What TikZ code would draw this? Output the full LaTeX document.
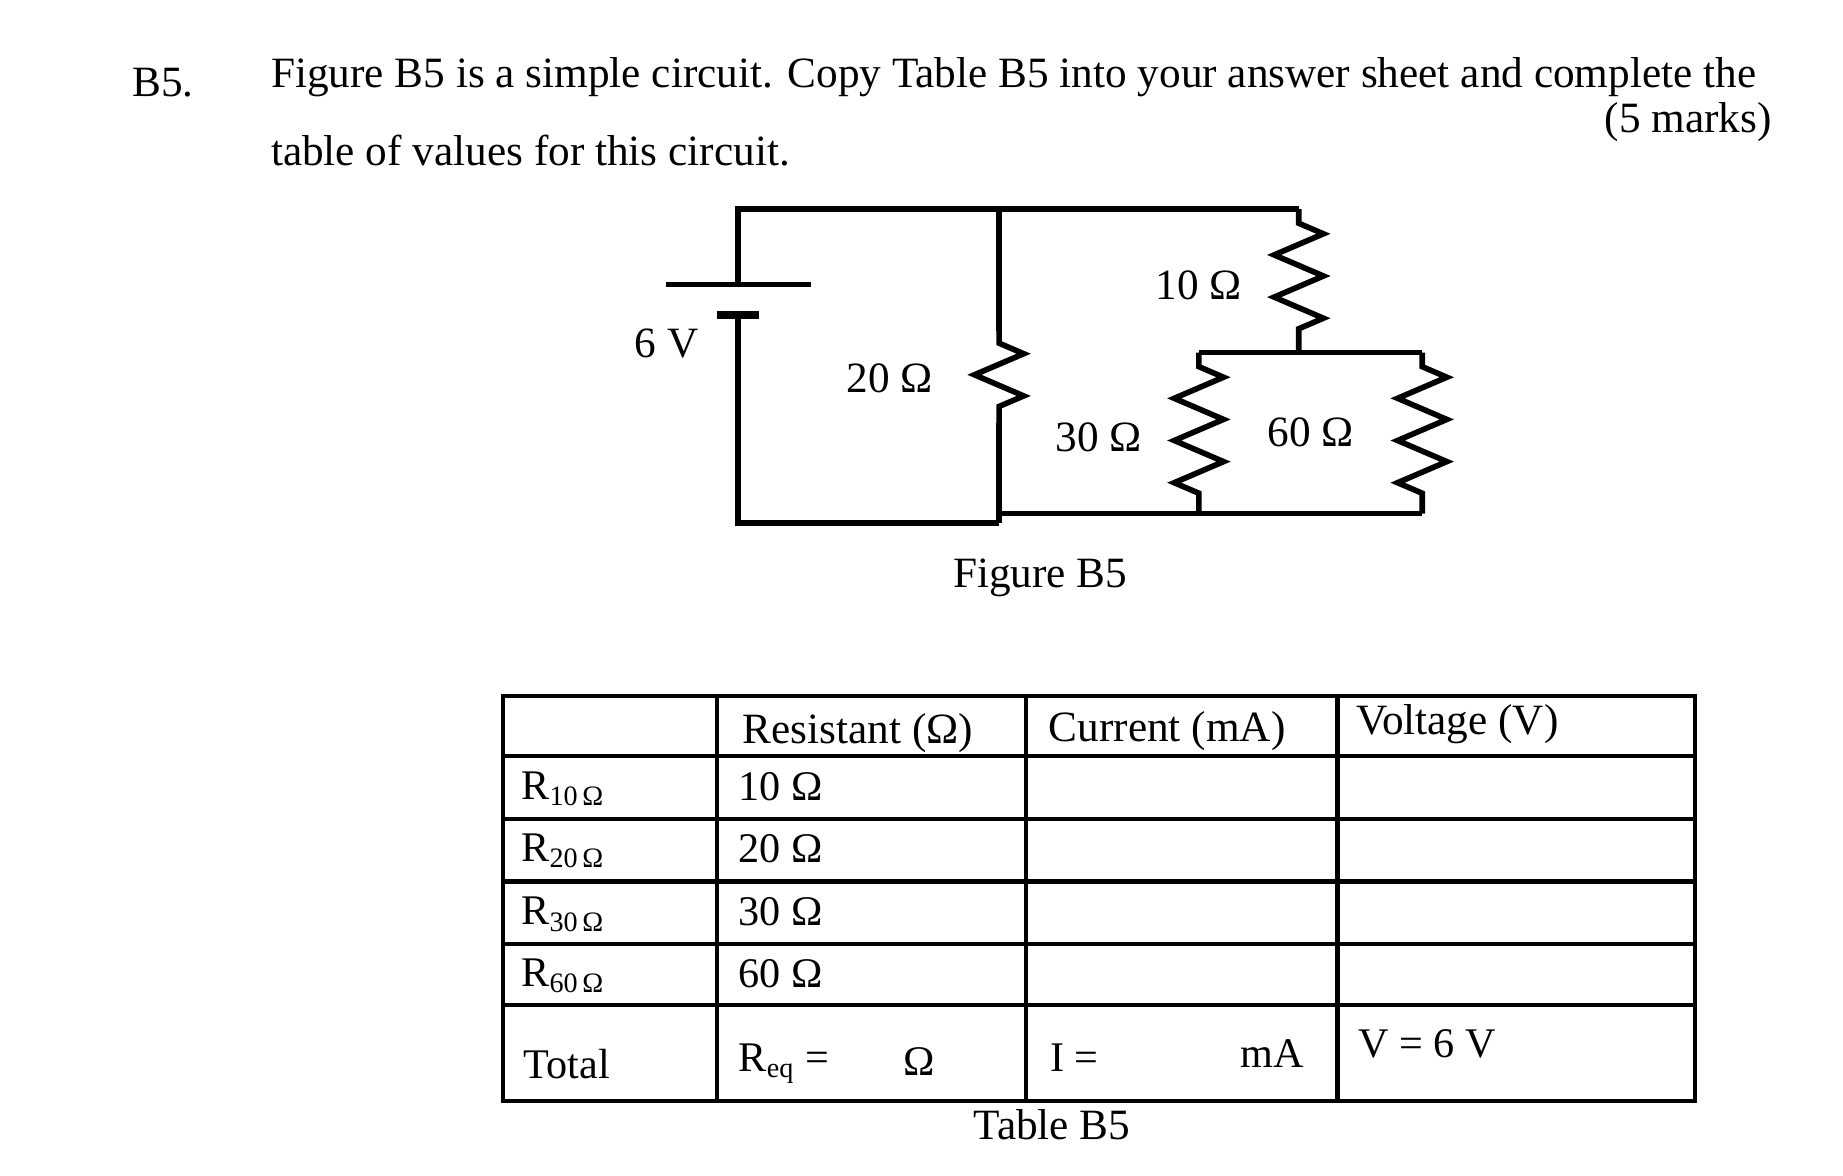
\documentclass[tikz,border=0pt]{standalone}
\usepackage{fontspec}
\setmainfont{Liberation Serif}
\usetikzlibrary{decorations.pathmorphing}
\begin{document}
\begin{tikzpicture}[x=0.011754cm,y=-0.011754cm,
  wire/.style={line width=1.6pt},
  res/.style={line width=1.6pt,decorate,decoration={zigzag,segment length=12,amplitude=7,pre length=4,post length=4}},
  txt/.style={font=\fontsize{12.3}{14}\selectfont,inner sep=0pt},
  cell/.style={font=\fontsize{12}{14}\selectfont,inner sep=0pt,anchor=west},
  grid/.style={line width=1.2pt}]
\useasboundingbox[fill=white] (0,0) rectangle (1568,1000);
% header text
\node[txt,anchor=west] (q) at (112,70) {B5.};
\node[txt,anchor=west] (l1) at (230,66) {Figure B5 is a simple circuit. Copy Table B5 into your answer sheet and complete the};
\node[txt,anchor=west] (l2) at (230,128) {table of values for this circuit.};
\node[txt,anchor=east] (mk) at (1508,104) {(5 marks)};
% circuit coordinates
\coordinate (tl) at (628,178);
\coordinate (bl) at (628,445);
\coordinate (t20) at (850,178);
\coordinate (b20) at (850,445);
\coordinate (t10) at (1105,178);
\coordinate (m10) at (1105,300);
\coordinate (l30) at (1020,300);
\coordinate (r60) at (1210,300);
\coordinate (b30) at (1020,437);
\coordinate (b60) at (1210,437);
\coordinate (bp) at (628,242);
\coordinate (bn) at (628,268);
\draw[wire] (bp) -- (tl) -- (t10);
\draw[wire] (567,242) -- (690,242);
\draw[line width=2.4pt] (610,268) -- (646,268);
\draw[wire] (bn) -- (bl) -- (b20);
\draw[wire] (t20) -- (850,282);
\draw[res] (850,280) -- (850,362);
\draw[wire] (850,360) -- (b20);
\draw[res] (t10) -- (m10);
\draw[wire] (l30) -- (r60);
\draw[res] (l30) -- (b30);
\draw[res] (r60) -- (b60);
\draw[wire] (850,437) -- (b60);
\node[txt] (v6) at (567,292) {6 V};
\node[txt] (r20) at (757,322) {20 Ω};
\node[txt] (r10) at (1020,243) {10 Ω};
\node[txt] (r30) at (935,372) {30 Ω};
\node[txt] (r60l) at (1115,368) {60 Ω};
\node[txt] (fig) at (885,492) {Figure B5};
% table
\draw[grid] (428,592) rectangle (1442,937);
\foreach \y in {643,697,750,803,855} \draw[grid] (428,\y) -- (1442,\y);
\foreach \x in {610,873,1138} \draw[grid] (\x,592) -- (\x,937);
\node[txt] (h1) at (730,624) {Resistant (Ω)};
\node[txt] (h2) at (993,622) {Current (mA)};
\node[txt] (h3) at (1240,616) {Voltage (V)};
\node[cell] (a1) at (443,671) {R\textsubscript{10\,Ω}};
\node[cell] (a2) at (443,724) {R\textsubscript{20\,Ω}};
\node[cell] (a3) at (443,778) {R\textsubscript{30\,Ω}};
\node[cell] (a4) at (443,830) {R\textsubscript{60\,Ω}};
\node[cell] (a5) at (445,905) {Total};
\node[cell] (b1) at (628,669) {10 Ω};
\node[cell] (b2) at (628,722) {20 Ω};
\node[cell] (b3) at (628,776) {30 Ω};
\node[cell] (b4) at (628,828) {60 Ω};
\node[cell] (b5) at (628,905) {R\textsubscript{eq} =};
\node[cell] (b6) at (768,903) {Ω};
\node[cell] (c5) at (893,900) {I =};
\node[cell] (c6) at (1055,896) {mA};
\node[cell] (d5) at (1155,888) {V = 6 V};
\node[txt] (tab) at (895,957) {Table B5};
\end{tikzpicture}
\end{document}
